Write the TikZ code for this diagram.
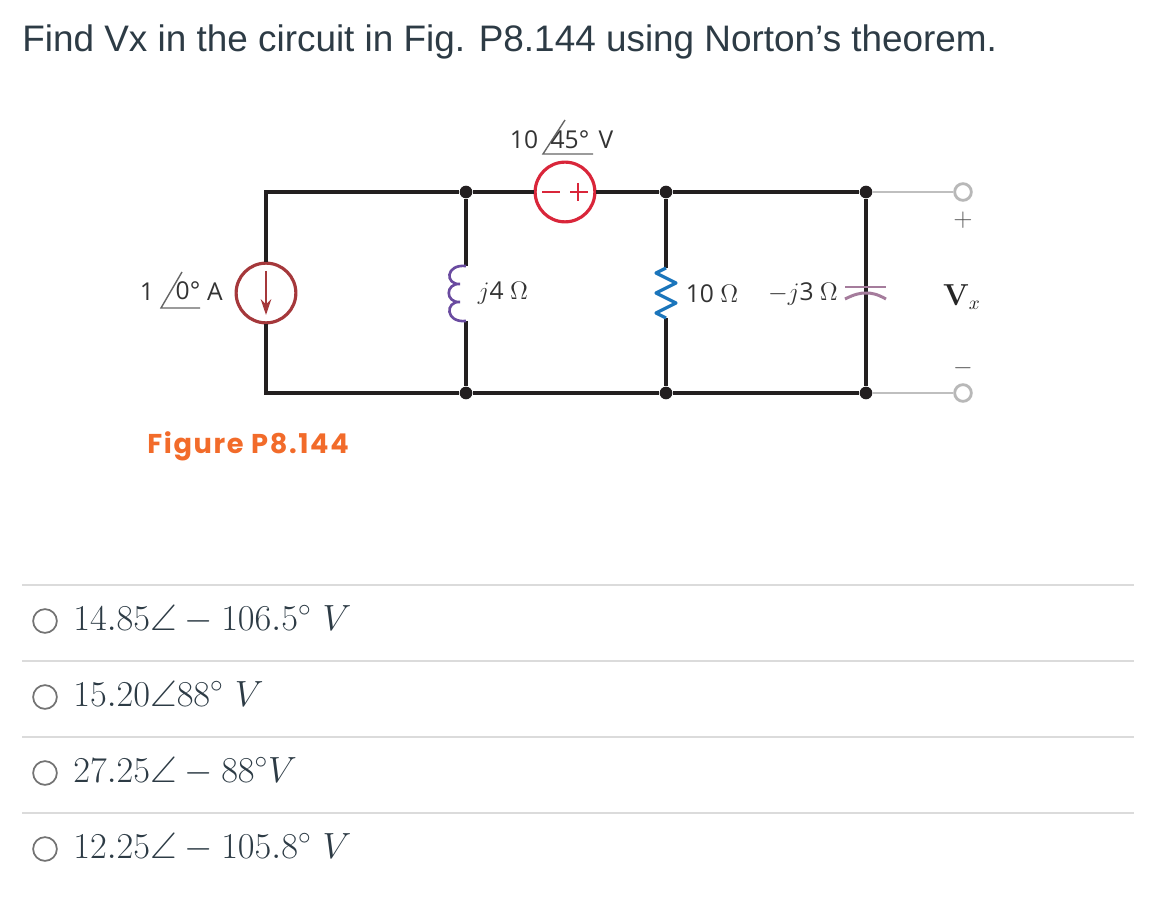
\documentclass[tikz,border=0pt]{standalone}
\usepackage[no-math]{fontspec}
\usepackage{amsmath}
\usepackage{amssymb}
\newfontfamily\titlefont{Liberation Sans}
\newfontfamily\circfont{Open Sans}
\newfontfamily\figfont[LetterSpace=6]{Poppins}
\usetikzlibrary{positioning,arrows.meta}
\definecolor{slate}{HTML}{2D3B45}
\definecolor{wire}{HTML}{231F20}
\definecolor{srcred}{HTML}{A5383B}
\definecolor{volred}{HTML}{D9263A}
\definecolor{indpurple}{HTML}{6A4BA0}
\definecolor{resblue}{HTML}{1B75BB}
\definecolor{capmauve}{HTML}{A57C9C}
\definecolor{figorange}{HTML}{F26B2A}
\tikzset{
wireline/.style={draw=wire,line width=2pt},
leadline/.style={draw=black!25,line width=1.7pt},
junction/.style={circle,fill=wire,inner sep=0pt,minimum size=7.2pt},
terminal/.style={circle,draw=black!28,fill=white,line width=1.6pt,inner sep=0pt,minimum size=9.5pt},
srccircle/.style={circle,fill=white,line width=1.8pt,inner sep=0pt,minimum size=34pt},
circlabel/.style={inner sep=0pt,text=black!80,font=\circfont\fontsize{14}{16}\selectfont},
anglemark/.style={draw=black!60,line width=0.8pt},
rule/.style={draw=black!14,line width=0.8pt},
radio/.style={circle,draw=black!55,line width=1pt,inner sep=0pt,minimum size=13.5pt},
answer/.style={anchor=base west,inner sep=0pt,text=slate,font=\fontsize{21}{26}\selectfont}
}
\begin{document}
\begin{tikzpicture}[x=0.02cm,y=-0.02cm]
\useasboundingbox (0,0) rectangle (1160,898);
\node[anchor=base west,inner sep=0pt,text=slate,font=\titlefont\fontsize{21}{25}\selectfont] (title) at (22,52) {Find Vx in the circuit in Fig. P8.144 using Norton’s theorem.};

\coordinate (tl) at (266,192);
\coordinate (bl) at (266,393);
\node[srccircle,draw=srcred] (isrc) at (266,293) {};
\node[srccircle,draw=volred] (vsrc) at (565,192) {};
\node[junction] (j1) at (466,192) {};
\node[junction] (j2) at (666,192) {};
\node[junction] (j3) at (866,192) {};
\node[junction] (j4) at (466,393) {};
\node[junction] (j5) at (666,393) {};
\node[junction] (j6) at (866,393) {};
\node[terminal] (tp) at (963,192) {};
\node[terminal] (tm) at (963,393) {};
\coordinate (ltop) at (466,266);
\coordinate (lbot) at (466,321);
\coordinate (rtop) at (666,268);
\coordinate (rbot) at (666,318);

\draw[leadline] (j3) -- (tp);
\draw[leadline] (j6) -- (tm);
\draw[wireline] (isrc) -- (tl) -- (j1) -- (vsrc);
\draw[wireline] (vsrc) -- (j2) -- (j3) -- (j6) -- (j5) -- (j4) -- (bl) -- (isrc);
\draw[wireline] (j1) -- (ltop);
\draw[wireline] (lbot) -- (j4);
\draw[wireline] (j2) -- (rtop);
\draw[wireline] (rbot) -- (j5);

\draw[draw=indpurple,line width=1.5pt] (ltop)
.. controls (445,264) and (445,285) .. (460,284)
.. controls (445,283) and (445,303) .. (460,302)
.. controls (445,301) and (445,323) .. (lbot);
\draw[draw=resblue,line width=1.8pt,line join=round] (rtop) -- (656,273) -- (676,283) -- (656,293) -- (676,303) -- (656,313) -- (rbot);
\draw[draw=capmauve,line width=1.7pt] (845,287) -- (886,287);
\draw[draw=capmauve,line width=1.7pt] (845,299) .. controls (855,294) and (860,293) .. (866,293) .. controls (872,293) and (877,294) .. (886,299);

\draw[draw=srcred,line width=1pt,-{Stealth[length=9pt,width=6pt]}] (266,271) -- (266,315);
\draw[draw=volred,line width=0.7pt] (542,192) -- (560,192);
\draw[draw=volred,line width=0.7pt] (570,192) -- (588,192) (578,183) -- (578,201);

\node[circlabel] (ilabel) at (147,292) {1};
\draw[anglemark] (182,272) -- (161,308) -- (200,308);
\node[circlabel] (iangle) at (188,291) {0°};
\node[circlabel] (iunit) at (215,292) {A};
\node[circlabel] (vlabel) at (524,140) {10};
\draw[anglemark] (565,120) -- (543,154) -- (593,154);
\node[circlabel] (vangle) at (570,140) {45°};
\node[circlabel] (vunit) at (606,140) {V};
\node[circlabel] (llabel) at (503,293) {$j$4 $\Omega$};
\node[circlabel] (rlabel) at (712,294) {10 $\Omega$};
\node[circlabel] (clabel) at (803,294) {$-j$3 $\Omega$};
\node[inner sep=0pt,text=black!65,font=\fontsize{15}{17}\selectfont] (vplus) at (963,220) {$+$};
\node[inner sep=0pt,text=black!65,font=\fontsize{15}{17}\selectfont] (vminus) at (963,368) {$-$};
\node[inner sep=0pt,text=black!85,font=\fontsize{16}{18}\selectfont] (vx) at (962,297) {$\mathbf{V}_x$};
\node[anchor=base west,inner sep=0pt,text=figorange,font=\figfont\bfseries\fontsize{15.5}{18}\selectfont] (figlabel) at (147,454) {Figure P8.144};

\coordinate (r1a) at (22,585);
\coordinate (r1b) at (1134,585);
\coordinate (r2a) at (22,661);
\coordinate (r2b) at (1134,661);
\coordinate (r3a) at (22,737);
\coordinate (r3b) at (1134,737);
\coordinate (r4a) at (22,813);
\coordinate (r4b) at (1134,813);
\foreach \i in {1,...,4}{
\draw[rule] (r\i a) -- (r\i b);
}
\node[radio] (o1) at (45,621) {};
\node[radio] (o2) at (45,697) {};
\node[radio] (o3) at (45,773) {};
\node[radio] (o4) at (45,849) {};
\node[answer] (a1) at (73,630) {$14.85\angle-106.5^\circ\ V$};
\node[answer] (a2) at (73,706) {$15.20\angle88^\circ\ V$};
\node[answer] (a3) at (73,782) {$27.25\angle-88^\circ V$};
\node[answer] (a4) at (73,858) {$12.25\angle-105.8^\circ\ V$};
\end{tikzpicture}
\end{document}
